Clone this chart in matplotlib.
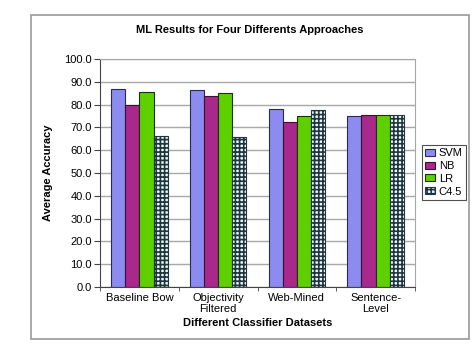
import numpy as np
import matplotlib.pyplot as plt
from matplotlib.patches import Rectangle

plt.rcParams['font.family'] = ['Liberation Sans', 'DejaVu Sans']
plt.rcParams['hatch.linewidth'] = 1.2

datasets = ["Baseline Bow", "Objectivity\nFiltered", "Web-Mined", "Sentence-\nLevel"]
classifiers = ["SVM", "NB", "LR", "C4.5"]
svm = [86.7, 86.4, 77.9, 75.0]
nb = [79.8, 83.8, 72.5, 75.6]
lr = [85.7, 85.2, 75.0, 75.4]
c45 = [66.2, 65.6, 77.5, 75.4]

fig = plt.figure(figsize=(4.74, 3.46), dpi=100)
# outer chart frame
fig.patches.append(Rectangle((31 / 474, 1 - 339 / 346), 438 / 474, 324 / 346,
                             transform=fig.transFigure, fill=False,
                             edgecolor='#9a9a9a', linewidth=1.2))

ax = fig.add_axes([100 / 474, 1 - 287 / 346, 315 / 474, 228 / 346])

x = np.arange(len(datasets))
w = 0.18
styles = [
    dict(color='#8C8CF0', edgecolor='#2a2a50'),
    dict(color='#A8288C', edgecolor='#3a1030'),
    dict(color='#5ED000', edgecolor='#1a3000'),
    dict(color='#E6FFFF', edgecolor='#24343f', hatch='++++'),
]
for i, (vals, st) in enumerate(zip([svm, nb, lr, c45], styles)):
    ax.bar(x + (i - 1.5) * w, vals, w, label=classifiers[i], linewidth=0.8, **st)

ax.set_xlim(-0.5, len(datasets) - 0.5)
ax.set_ylim(0, 100)
ax.set_yticks(np.arange(0, 101, 10))
ax.set_yticklabels([f"{v:.1f}" for v in range(0, 101, 10)], fontsize=8)
ax.set_xticks(x)
ax.set_xticklabels(datasets, fontsize=8)
ax.set_xticks(np.arange(-0.5, len(datasets)), minor=True)
ax.tick_params(axis='x', which='major', length=0, pad=4)
ax.tick_params(axis='x', which='minor', length=3, direction='out', color='#444444')
ax.tick_params(axis='y', length=4, direction='out', color='#444444', pad=2)

ax.yaxis.grid(True, color='#a8a8a8', linewidth=1)
ax.set_axisbelow(True)
for side in ['top', 'right']:
    ax.spines[side].set_color('#a8a8a8')
for side in ['left', 'bottom']:
    ax.spines[side].set_color('#444444')

ax.set_ylabel("Average Accuracy", fontsize=8, fontweight='bold', labelpad=8)
ax.set_xlabel("Different Classifier Datasets", fontsize=8, fontweight='bold', labelpad=3)
fig.text(0.527, 1 - 30 / 346, "ML Results for Four Differents Approaches",
         ha='center', va='center', fontsize=8, fontweight='bold')

leg = fig.legend(loc='upper left', bbox_to_anchor=(422 / 474, 1 - 145 / 346),
                 fontsize=8, frameon=True, fancybox=False, borderpad=0.3,
                 handlelength=0.9, handleheight=0.6, handletextpad=0.3,
                 labelspacing=0.25, borderaxespad=0)
leg.get_frame().set_edgecolor('#222222')
leg.get_frame().set_linewidth(0.8)

fig.savefig("out.png", dpi=100)
